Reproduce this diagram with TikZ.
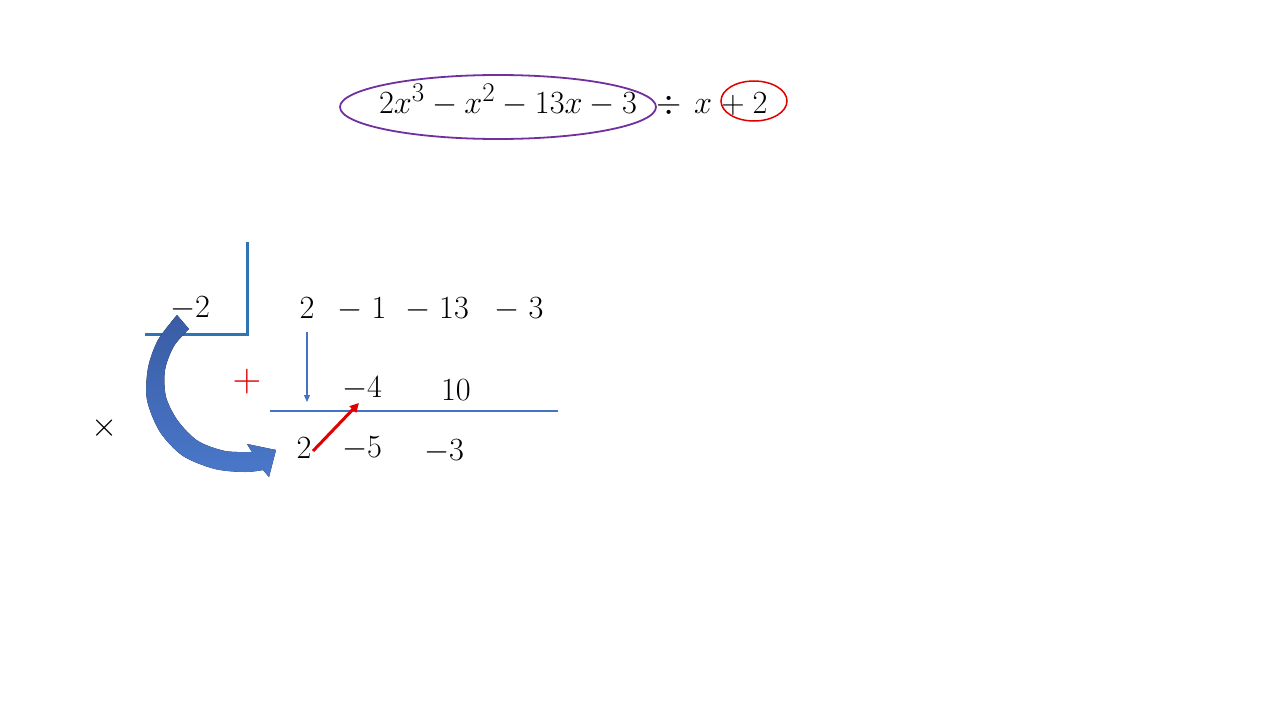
\documentclass[tikz,border=0pt]{standalone}
\usepackage{amsmath}
\usepackage{graphicx}
\usetikzlibrary{arrows.meta}
\definecolor{bracketblue}{HTML}{2E75B6}
\definecolor{lineblue}{HTML}{4472C4}
\definecolor{arrdark}{HTML}{3A5CA4}
\definecolor{arrlight}{HTML}{4A78CA}
\definecolor{redc}{HTML}{E00000}
\definecolor{purp}{HTML}{7030A0}
\newcommand{\bigtxt}[1]{\scalebox{1.3}{\Huge #1}}
\tikzset{
  num/.style={inner sep=0pt, anchor=base},
}
\begin{document}
\begin{tikzpicture}[x=1pt,y=-1pt]
\useasboundingbox[fill=white] (0,0) rectangle (1280,720);
% top equation
\node[num] (poly) at (508,113) {\bigtxt{$2x^3-x^2-13x-3$}};
\node[num] (div) at (669,113) {\bigtxt{$\div$}};
\node[num] (xx) at (703,113) {\bigtxt{$x$}};
\node[num] (plus) at (733,113) {\bigtxt{$+$}};
\node[num] (two) at (760,113) {\bigtxt{$2$}};
\draw[purp, line width=1.8pt] (498,107) ellipse [x radius=158, y radius=32];
\draw[redc, line width=1.5pt] (754,101) ellipse [x radius=33, y radius=20];
% bracket
\coordinate (btop) at (247,242);
\coordinate (bcorner) at (247,334);
\coordinate (bleft) at (145,334);
\draw[bracketblue, line width=3pt] (btop) -- (bcorner) -- (bleft);
% divisor
\node[num] (dv) at (190,317) {\bigtxt{$-2$}};
% row 1
\node[num] (a1) at (307,318) {\bigtxt{$2$}};
\node[num] (a2) at (362,318) {\bigtxt{$-\;1$}};
\node[num] (a3) at (437,318) {\bigtxt{$-\;13$}};
\node[num] (a4) at (519,318) {\bigtxt{$-\;3$}};
% row 2
\node[num] (b2) at (362,397) {\bigtxt{$-4$}};
\node[num] (b3) at (456,400) {\bigtxt{$10$}};
% row 3
\node[num] (c1) at (304,458) {\bigtxt{$2$}};
\node[num] (c2) at (362,457) {\bigtxt{$-5$}};
\node[num] (c3) at (444,460) {\bigtxt{$-3$}};
% line
\coordinate (hl) at (270,411);
\coordinate (hr) at (558,411);
\draw[lineblue, line width=1.5pt] (hl) -- (hr);
% plus and times
\node[inner sep=0pt, text=redc] (pl) at (247,382) {\scalebox{1.6}{\Huge $+$}};
\node[inner sep=0pt] (tm) at (105,428) {\scalebox{1.35}{\Huge $\times$}};
% down arrow
\coordinate (d1) at (307,332);
\coordinate (d2) at (307,402);
\draw[lineblue, line width=1.2pt, -{Triangle[length=7pt,width=6pt]}] (d1) -- (d2);
% red arrow
\coordinate (r1) at (313,451);
\coordinate (r2) at (359,403);
\draw[redc, line width=3pt, -{Triangle[length=9pt,width=9pt]}] (r1) -- (r2);
% curved arrow
\fill[top color=arrdark, bottom color=arrlight]
  plot[smooth] coordinates {(177,315) (158,340) (148,368) (147,400) (160,432) (183,456) (215,469) (245,472) (263,470)}
  -- (269,477) -- (276,450) -- (247,444)
  -- plot[smooth] coordinates {(252,452) (225,451) (198,441) (178,421) (166,397) (165,370) (174,346) (189,329)}
  -- cycle;
\end{tikzpicture}
\end{document}
